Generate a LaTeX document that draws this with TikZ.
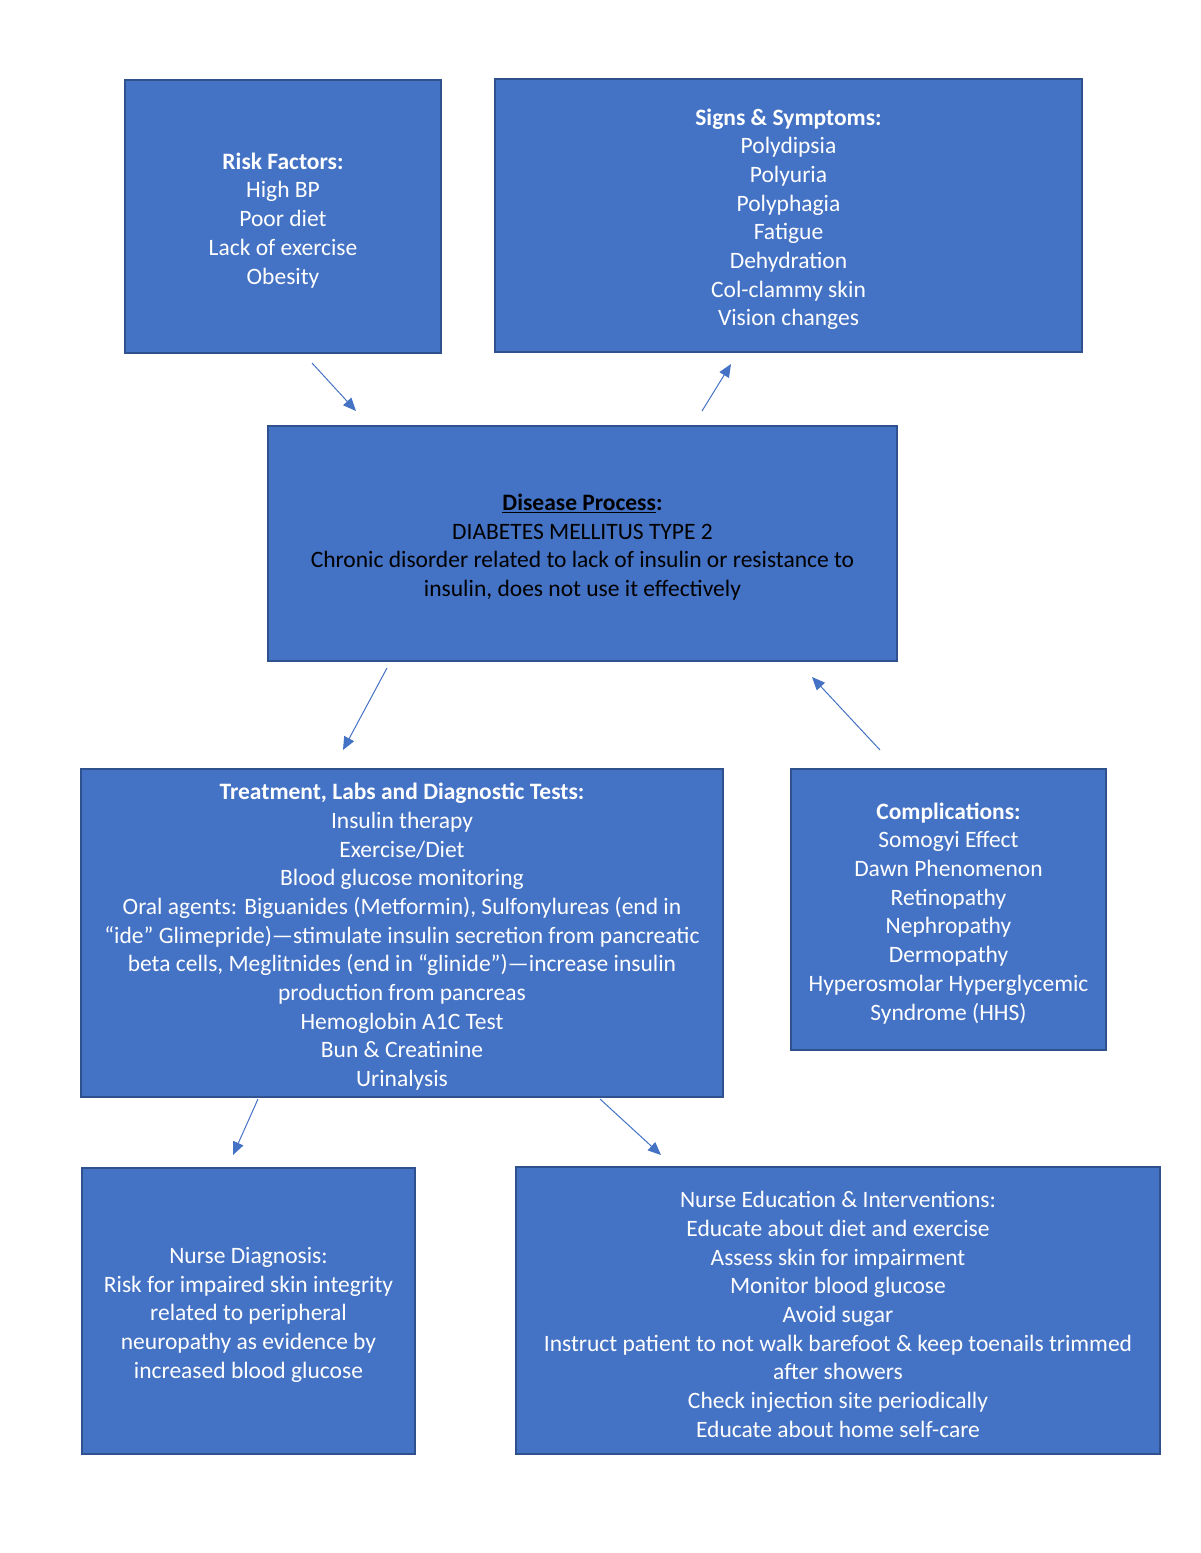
\documentclass[tikz,border=0pt]{standalone}
\usepackage{fontspec}
\setmainfont{Carlito}
\usetikzlibrary{arrows.meta}
\definecolor{boxfill}{HTML}{4472C4}
\definecolor{boxline}{HTML}{2F528F}
\newcommand{\firstup}{\rule{0pt}{24pt}}
\begin{document}
\begin{tikzpicture}[x=1pt,y=-1pt,
  card/.style={draw=boxline,line width=2pt,fill=boxfill,text=white,align=center,inner sep=0pt,
    font=\fontsize{23.5}{28.7}\selectfont},
  link/.style={draw=boxfill,line width=1pt,-{Triangle[length=13pt,width=11pt]}}]
\useasboundingbox (0,0) rectangle (1200,1553);
\node[card,minimum width=316pt,minimum height=273pt] (rf) at (283,216.5)
  {\firstup\textbf{Risk Factors:}\\High BP\\Poor diet\\Lack of exercise\\Obesity};
\node[card,minimum width=587pt,minimum height=273pt] (ss) at (788.5,215.5)
  {\firstup\textbf{Signs \& Symptoms:}\\Polydipsia\\Polyuria\\Polyphagia\\Fatigue\\Dehydration\\Col-clammy skin\\Vision changes};
\node[card,text=black,minimum width=629pt,minimum height=235pt] (dp) at (582.5,543.5)
  {\firstup\underline{\textbf{Disease Process}}\textbf{:}\\DIABETES MELLITUS TYPE 2\\Chronic disorder related to lack of insulin or resistance to\\insulin, does not use it effectively};
\node[card,minimum width=642pt,minimum height=328pt] (tr) at (402,933)
  {\firstup\textbf{Treatment, Labs and Diagnostic Tests:}\\Insulin therapy\\Exercise/Diet\\Blood glucose monitoring\\Oral agents: Biguanides (Metformin), Sulfonylureas (end in\\“ide” Glimepride)—stimulate insulin secretion from pancreatic\\beta cells, Meglitnides (end in “glinide”)—increase insulin\\production from pancreas\\Hemoglobin A1C Test\\Bun \& Creatinine\\Urinalysis};
\node[card,minimum width=315pt,minimum height=281pt] (co) at (948.5,909.5)
  {\firstup\textbf{Complications:}\\Somogyi Effect\\Dawn Phenomenon\\Retinopathy\\Nephropathy\\Dermopathy\\Hyperosmolar Hyperglycemic\\Syndrome (HHS)};
\node[card,minimum width=333pt,minimum height=286pt] (nd) at (248.5,1311)
  {\firstup Nurse Diagnosis:\\Risk for impaired skin integrity\\related to peripheral\\neuropathy as evidence by\\increased blood glucose};
\node[card,minimum width=644pt,minimum height=287pt] (ne) at (838,1310.5)
  {\firstup Nurse Education \& Interventions:\\Educate about diet and exercise\\Assess skin for impairment\\Monitor blood glucose\\Avoid sugar\\Instruct patient to not walk barefoot \& keep toenails trimmed\\after showers\\Check injection site periodically\\Educate about home self-care};
\coordinate (a1s) at (312,363); \coordinate (a1e) at (356,411);
\coordinate (a2s) at (702,411); \coordinate (a2e) at (731,364);
\coordinate (a3s) at (387,668); \coordinate (a3e) at (343,750);
\coordinate (a4s) at (880,750); \coordinate (a4e) at (812,677);
\coordinate (a5s) at (258,1099); \coordinate (a5e) at (233,1155);
\coordinate (a6s) at (600,1099); \coordinate (a6e) at (661,1155);
\draw[link] (a1s) -- (a1e);
\draw[link] (a2s) -- (a2e);
\draw[link] (a3s) -- (a3e);
\draw[link] (a4s) -- (a4e);
\draw[link] (a5s) -- (a5e);
\draw[link] (a6s) -- (a6e);
\end{tikzpicture}
\end{document}
